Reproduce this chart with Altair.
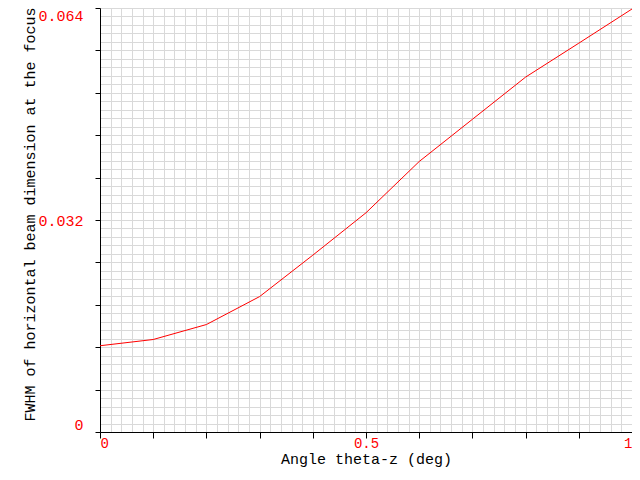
import altair as alt
import pandas as pd

# Data
angle_deg = [0.0, 0.1, 0.2, 0.3, 0.4, 0.5, 0.6, 0.7, 0.8, 0.9, 1.0]
fwhm = [0.01302, 0.01396, 0.01622, 0.02044, 0.02669, 0.03309,
        0.04083, 0.04720, 0.05357, 0.05869, 0.06385]

df = pd.DataFrame({"angle": angle_deg, "fwhm": fwhm})

FONT = "Liberation Mono"
GRID = "#d9d9d9"

x_grid_values = [round(i * 0.02, 2) for i in range(51)]
y_grid_values = [round(i * 0.00128, 5) for i in range(51)]

x_axis = alt.Axis(
    values=x_grid_values,
    grid=True, gridColor=GRID, gridWidth=1, gridOpacity=1,
    domainColor="black", domainWidth=1,
    tickColor="black", tickWidth=1, tickSize=6,
    tickOpacity={"condition": {"test": "round(datum.value * 50) % 5 == 0", "value": 1}, "value": 0},
    labelExpr="round(datum.value * 50) % 25 == 0 ? datum.label : ''",
    format="~g",
    labelFlush=True, labelOverlap=False,
    labelColor="red", labelFont=FONT, labelFontSize=14, labelPadding=-2,
    title="Angle theta-z (deg)",
    titleFont=FONT, titleFontSize=15, titleFontWeight="normal", titleColor="black",
    titleY=31, titleBaseline="alphabetic",
)

y_axis = alt.Axis(
    values=y_grid_values,
    grid=True, gridColor=GRID, gridWidth=1, gridOpacity=1,
    domainColor="black", domainWidth=1,
    tickColor="black", tickWidth=1, tickSize=5,
    tickOpacity={"condition": {"test": "round(datum.value / 0.00128) % 5 == 0", "value": 1}, "value": 0},
    labelExpr="round(datum.value / 0.00128) % 25 == 0 ? datum.label : ''",
    format=".3~g",
    labelFlush=True, labelOverlap=False,
    labelColor="red", labelFont=FONT, labelFontSize=15, labelPadding=12,
    title="FWHM of horizontal beam dimension at the focusing point (mm)",
    titleFont=FONT, titleFontSize=15, titleFontWeight="normal", titleColor="black",
    titleAngle=270, titleAlign="left", titleBaseline="alphabetic",
    titleX=-66, titleY=413,
)

chart = (
    alt.Chart(df)
    .mark_line(color="red", strokeWidth=1)
    .encode(
        x=alt.X("angle:Q", scale=alt.Scale(domain=[0, 1], nice=False, zero=False), axis=x_axis),
        y=alt.Y("fwhm:Q", scale=alt.Scale(domain=[0, 0.064], nice=False), axis=y_axis),
    )
    .properties(
        width=532,
        height=424,
        autosize=alt.AutoSizeParams(type="none"),
        padding={"left": 92, "top": 0, "right": 0, "bottom": 36},
        background="white",
    )
    .configure_view(stroke="transparent")
)

chart.save("out.html", embed_options={"renderer": "svg", "actions": False})
